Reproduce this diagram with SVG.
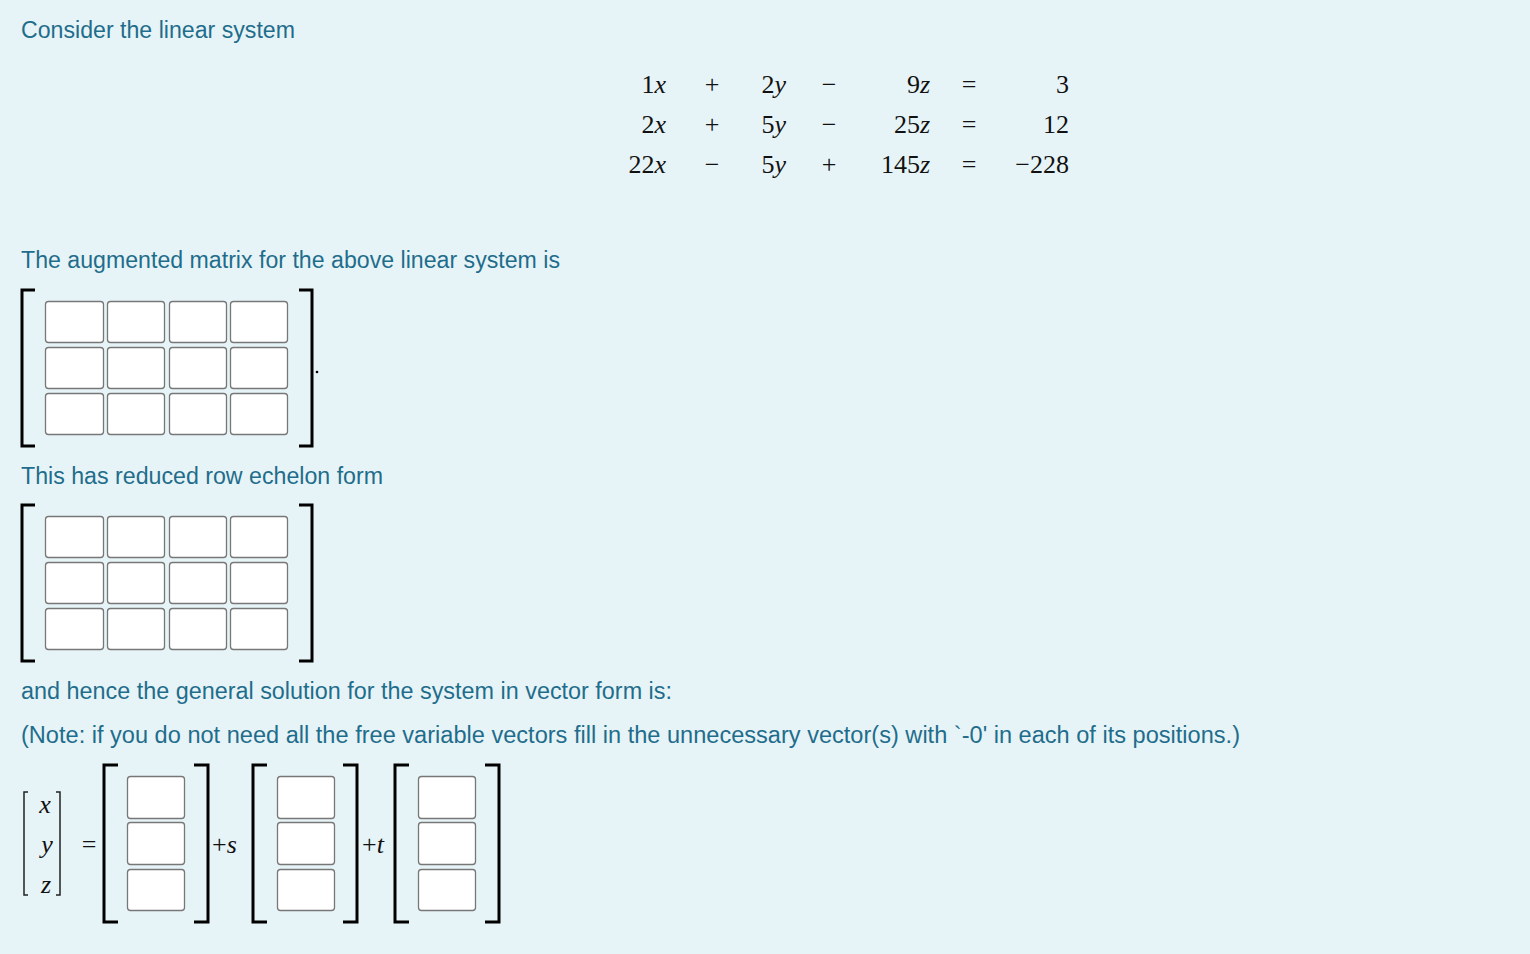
<svg xmlns="http://www.w3.org/2000/svg" width="1530" height="954" viewBox="0 0 1530 954">
<style>
.t{font-family:"Liberation Sans",Arial,sans-serif;font-size:23px;fill:#1f6d8c}
.m{font-family:"Liberation Serif","Times New Roman",serif;font-size:26px;fill:#111}
.i{font-style:italic}
.b{fill:#fff;stroke:#777;stroke-width:1.3}
.k{fill:none;stroke:#000;stroke-width:3}
.s{fill:none;stroke:#222;stroke-width:1.5}
</style>
<rect width="1530" height="954" fill="#e7f4f7"/>
<text class="t" x="21" y="38" textLength="274" lengthAdjust="spacingAndGlyphs">Consider the linear system</text>
<g id="equations" class="m">
<text x="666" y="93" text-anchor="end">1<tspan class="i">x</tspan></text>
<text x="712" y="93" text-anchor="middle">+</text>
<text x="786" y="93" text-anchor="end">2<tspan class="i">y</tspan></text>
<text x="829" y="93" text-anchor="middle">−</text>
<text x="930" y="93" text-anchor="end">9<tspan class="i">z</tspan></text>
<text x="969" y="93" text-anchor="middle">=</text>
<text x="1069" y="93" text-anchor="end">3</text>
<text x="666" y="133" text-anchor="end">2<tspan class="i">x</tspan></text>
<text x="712" y="133" text-anchor="middle">+</text>
<text x="786" y="133" text-anchor="end">5<tspan class="i">y</tspan></text>
<text x="829" y="133" text-anchor="middle">−</text>
<text x="930" y="133" text-anchor="end">25<tspan class="i">z</tspan></text>
<text x="969" y="133" text-anchor="middle">=</text>
<text x="1069" y="133" text-anchor="end">12</text>
<text x="666" y="173" text-anchor="end">22<tspan class="i">x</tspan></text>
<text x="712" y="173" text-anchor="middle">−</text>
<text x="786" y="173" text-anchor="end">5<tspan class="i">y</tspan></text>
<text x="829" y="173" text-anchor="middle">+</text>
<text x="930" y="173" text-anchor="end">145<tspan class="i">z</tspan></text>
<text x="969" y="173" text-anchor="middle">=</text>
<text x="1069" y="173" text-anchor="end">−228</text>
</g>
<text class="t" x="21" y="268" textLength="539" lengthAdjust="spacingAndGlyphs">The augmented matrix for the above linear system is</text>
<g id="matrix1">
<path class="k" d="M35,290 H22 V446 H35 M299,290 H312 V446 H299"/>
<circle cx="317" cy="372" r="1.3" fill="#000"/>
<rect class="b" x="45.5" y="301.5" width="58" height="41" rx="3"/><rect class="b" x="107.5" y="301.5" width="57" height="41" rx="3"/><rect class="b" x="169.5" y="301.5" width="57" height="41" rx="3"/><rect class="b" x="230.5" y="301.5" width="57" height="41" rx="3"/>
<rect class="b" x="45.5" y="347.5" width="58" height="41" rx="3"/><rect class="b" x="107.5" y="347.5" width="57" height="41" rx="3"/><rect class="b" x="169.5" y="347.5" width="57" height="41" rx="3"/><rect class="b" x="230.5" y="347.5" width="57" height="41" rx="3"/>
<rect class="b" x="45.5" y="393.5" width="58" height="41" rx="3"/><rect class="b" x="107.5" y="393.5" width="57" height="41" rx="3"/><rect class="b" x="169.5" y="393.5" width="57" height="41" rx="3"/><rect class="b" x="230.5" y="393.5" width="57" height="41" rx="3"/>
</g>
<text class="t" x="21" y="484" textLength="362" lengthAdjust="spacingAndGlyphs">This has reduced row echelon form</text>
<g id="matrix2">
<path class="k" d="M35,505 H22 V661 H35 M299,505 H312 V661 H299"/>
<rect class="b" x="45.5" y="516.5" width="58" height="41" rx="3"/><rect class="b" x="107.5" y="516.5" width="57" height="41" rx="3"/><rect class="b" x="169.5" y="516.5" width="57" height="41" rx="3"/><rect class="b" x="230.5" y="516.5" width="57" height="41" rx="3"/>
<rect class="b" x="45.5" y="562.5" width="58" height="41" rx="3"/><rect class="b" x="107.5" y="562.5" width="57" height="41" rx="3"/><rect class="b" x="169.5" y="562.5" width="57" height="41" rx="3"/><rect class="b" x="230.5" y="562.5" width="57" height="41" rx="3"/>
<rect class="b" x="45.5" y="608.5" width="58" height="41" rx="3"/><rect class="b" x="107.5" y="608.5" width="57" height="41" rx="3"/><rect class="b" x="169.5" y="608.5" width="57" height="41" rx="3"/><rect class="b" x="230.5" y="608.5" width="57" height="41" rx="3"/>
</g>
<text class="t" x="21" y="699" textLength="651" lengthAdjust="spacingAndGlyphs">and hence the general solution for the system in vector form is:</text>
<text class="t" x="21" y="743" textLength="1219" lengthAdjust="spacingAndGlyphs">(Note: if you do not need all the free variable vectors fill in the unnecessary vector(s) with `-0' in each of its positions.)</text>
<g id="vector">
<path class="s" d="M28,792 H24 V895 H28 M56,792 H60 V895 H56"/>
<text class="m i" x="45" y="813" text-anchor="middle">x</text>
<text class="m i" x="47" y="853" text-anchor="middle">y</text>
<text class="m i" x="46" y="893" text-anchor="middle">z</text>
<text class="m" x="89" y="853" text-anchor="middle">=</text>
<path class="k" d="M118,765 H104 V922 H118 M194,765 H208 V922 H194"/>
<text class="m" x="212" y="853">+<tspan class="i">s</tspan></text>
<path class="k" d="M267,765 H253 V922 H267 M343,765 H357 V922 H343"/>
<text class="m" x="362" y="853">+<tspan class="i">t</tspan></text>
<path class="k" d="M409,765 H395 V922 H409 M485,765 H499 V922 H485"/>
<rect class="b" x="127.5" y="776.5" width="57" height="42" rx="3"/><rect class="b" x="127.5" y="822.5" width="57" height="42" rx="3"/><rect class="b" x="127.5" y="869.5" width="57" height="41" rx="3"/>
<rect class="b" x="277.5" y="776.5" width="57" height="42" rx="3"/><rect class="b" x="277.5" y="822.5" width="57" height="42" rx="3"/><rect class="b" x="277.5" y="869.5" width="57" height="41" rx="3"/>
<rect class="b" x="418.5" y="776.5" width="57" height="42" rx="3"/><rect class="b" x="418.5" y="822.5" width="57" height="42" rx="3"/><rect class="b" x="418.5" y="869.5" width="57" height="41" rx="3"/>
</g>
</svg>
